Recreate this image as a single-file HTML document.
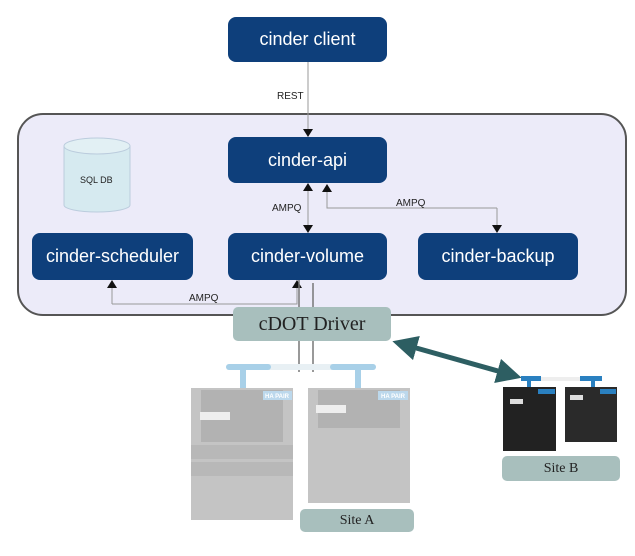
<!DOCTYPE html>
<html><head><style>
body{margin:0;background:#fff;width:635px;height:556px;position:relative;overflow:hidden;font-family:"Liberation Sans",sans-serif}
.b{position:absolute;background:#0e3f7b;color:#fff;border-radius:8px;display:flex;align-items:center;justify-content:center;font-size:18px}
.g{position:absolute;background:#a8bfbd;border-radius:5px;display:flex;align-items:center;justify-content:center;font-family:"Liberation Serif",serif;color:#222}
.l{position:absolute;font-size:10px;color:#222}
</style></head><body>
<div style="position:absolute;left:17px;top:113px;width:606px;height:199px;border:2px solid #555;border-radius:26px;background:#ecebf9"></div>
<svg width="635" height="556" style="position:absolute;left:0;top:0">
<defs><marker id="a" markerWidth="8" markerHeight="10" refX="7" refY="5" orient="auto"><path d="M0,0L8,5L0,10z" fill="#111"/></marker>
<marker id="t" markerWidth="5" markerHeight="5" refX="3" refY="2.5" orient="auto-start-reverse" markerUnits="strokeWidth"><path d="M0,0L5,2.5L0,5z" fill="#2d5e62"/></marker></defs>
<ellipse cx="97" cy="205" rx="33" ry="7" fill="#d6eaf0" stroke="#bcd"/>
<rect x="64" y="146" width="66" height="59" fill="#d6eaf0"/>
<line x1="64" y1="146" x2="64" y2="205" stroke="#bcd"/><line x1="130" y1="146" x2="130" y2="205" stroke="#bcd"/>
<ellipse cx="97" cy="146" rx="33" ry="8" fill="#e2f0f4" stroke="#bcd"/>
<line x1="308" y1="62" x2="308" y2="136" stroke="#999" marker-end="url(#a)"/>
<line x1="308" y1="205" x2="308" y2="232" stroke="#999" marker-end="url(#a)"/>
<line x1="308" y1="205" x2="308" y2="184" stroke="#999" marker-end="url(#a)"/>
<polyline points="497,208 327,208 327,185" fill="none" stroke="#999" marker-end="url(#a)"/>
<line x1="497" y1="208" x2="497" y2="232" stroke="#999" marker-end="url(#a)"/>
<polyline points="112,304 297,304 297,281" fill="none" stroke="#999" marker-end="url(#a)"/>
<line x1="112" y1="304" x2="112" y2="281" stroke="#999" marker-end="url(#a)"/>
<line x1="299" y1="280" x2="299" y2="372" stroke="#777" stroke-width="1.5"/>
<line x1="313" y1="372" x2="313" y2="283" stroke="#777" stroke-width="1.5"/>
<line x1="402" y1="344" x2="512" y2="375" stroke="#2d5e62" stroke-width="5" marker-end="url(#t)" marker-start="url(#t)"/>
<!-- site A -->
<rect x="226" y="364" width="150" height="6" rx="3" fill="#e8f0f4"/>
<rect x="226" y="364" width="45" height="6" rx="3" fill="#a8d0e8"/><rect x="330" y="364" width="46" height="6" rx="3" fill="#a8d0e8"/>
<rect x="240" y="368" width="6" height="20" fill="#a8d0e8"/><rect x="355" y="368" width="6" height="20" fill="#a8d0e8"/>
<rect x="191" y="388" width="102" height="132" fill="#c4c4c4"/>
<rect x="308" y="388" width="102" height="115" fill="#c4c4c4"/>
<rect x="201" y="390" width="82" height="52" fill="#b2b2b2"/><rect x="318" y="390" width="82" height="38" fill="#b2b2b2"/>
<rect x="191" y="445" width="102" height="14" fill="#b8b8b8"/><rect x="191" y="462" width="102" height="14" fill="#b8b8b8"/>
<rect x="200" y="412" width="30" height="8" fill="#eee"/><rect x="316" y="405" width="30" height="8" fill="#eee"/>
<rect x="263" y="391" width="29" height="9" fill="#bcd8ec"/><rect x="378" y="391" width="30" height="9" fill="#bcd8ec"/>
<text x="277" y="398" font-size="6" fill="#fff" text-anchor="middle" font-family="Liberation Sans" font-weight="bold">HA PAIR</text>
<text x="393" y="398" font-size="6" fill="#fff" text-anchor="middle" font-family="Liberation Sans" font-weight="bold">HA PAIR</text>
<!-- site B -->
<rect x="523" y="377" width="78" height="4" fill="#eee"/><rect x="521" y="376" width="20" height="5" fill="#2a80c0"/><rect x="580" y="376" width="22" height="5" fill="#2a80c0"/>
<rect x="527" y="380" width="4" height="8" fill="#2a80c0"/><rect x="591" y="380" width="4" height="8" fill="#2a80c0"/>
<rect x="503" y="387" width="53" height="64" fill="#222"/><rect x="565" y="387" width="52" height="55" fill="#2a2a2a"/>
<rect x="538" y="389" width="17" height="5" fill="#2a80c0"/><rect x="600" y="389" width="16" height="5" fill="#2a80c0"/>
<rect x="510" y="399" width="13" height="5" fill="#ddd"/><rect x="570" y="395" width="13" height="5" fill="#ddd"/>
</svg>
<div class="b" style="left:228px;top:17px;width:159px;height:45px">cinder client</div>
<div class="b" style="left:228px;top:137px;width:159px;height:46px">cinder-api</div>
<div class="b" style="left:32px;top:233px;width:161px;height:47px">cinder-scheduler</div>
<div class="b" style="left:228px;top:233px;width:159px;height:47px">cinder-volume</div>
<div class="b" style="left:418px;top:233px;width:160px;height:47px">cinder-backup</div>
<div class="l" style="left:277px;top:91px">REST</div>
<div class="l" style="left:272px;top:203px">AMPQ</div>
<div class="l" style="left:396px;top:198px">AMPQ</div>
<div class="l" style="left:189px;top:293px">AMPQ</div>
<div class="l" style="left:80px;top:175px;font-size:9px">SQL DB</div>
<div class="g" style="left:233px;top:307px;width:158px;height:34px;font-size:20px">cDOT Driver</div>
<div class="g" style="left:300px;top:509px;width:114px;height:23px;font-size:14px">Site A</div>
<div class="g" style="left:502px;top:456px;width:118px;height:25px;font-size:14px">Site B</div>
</body></html>
